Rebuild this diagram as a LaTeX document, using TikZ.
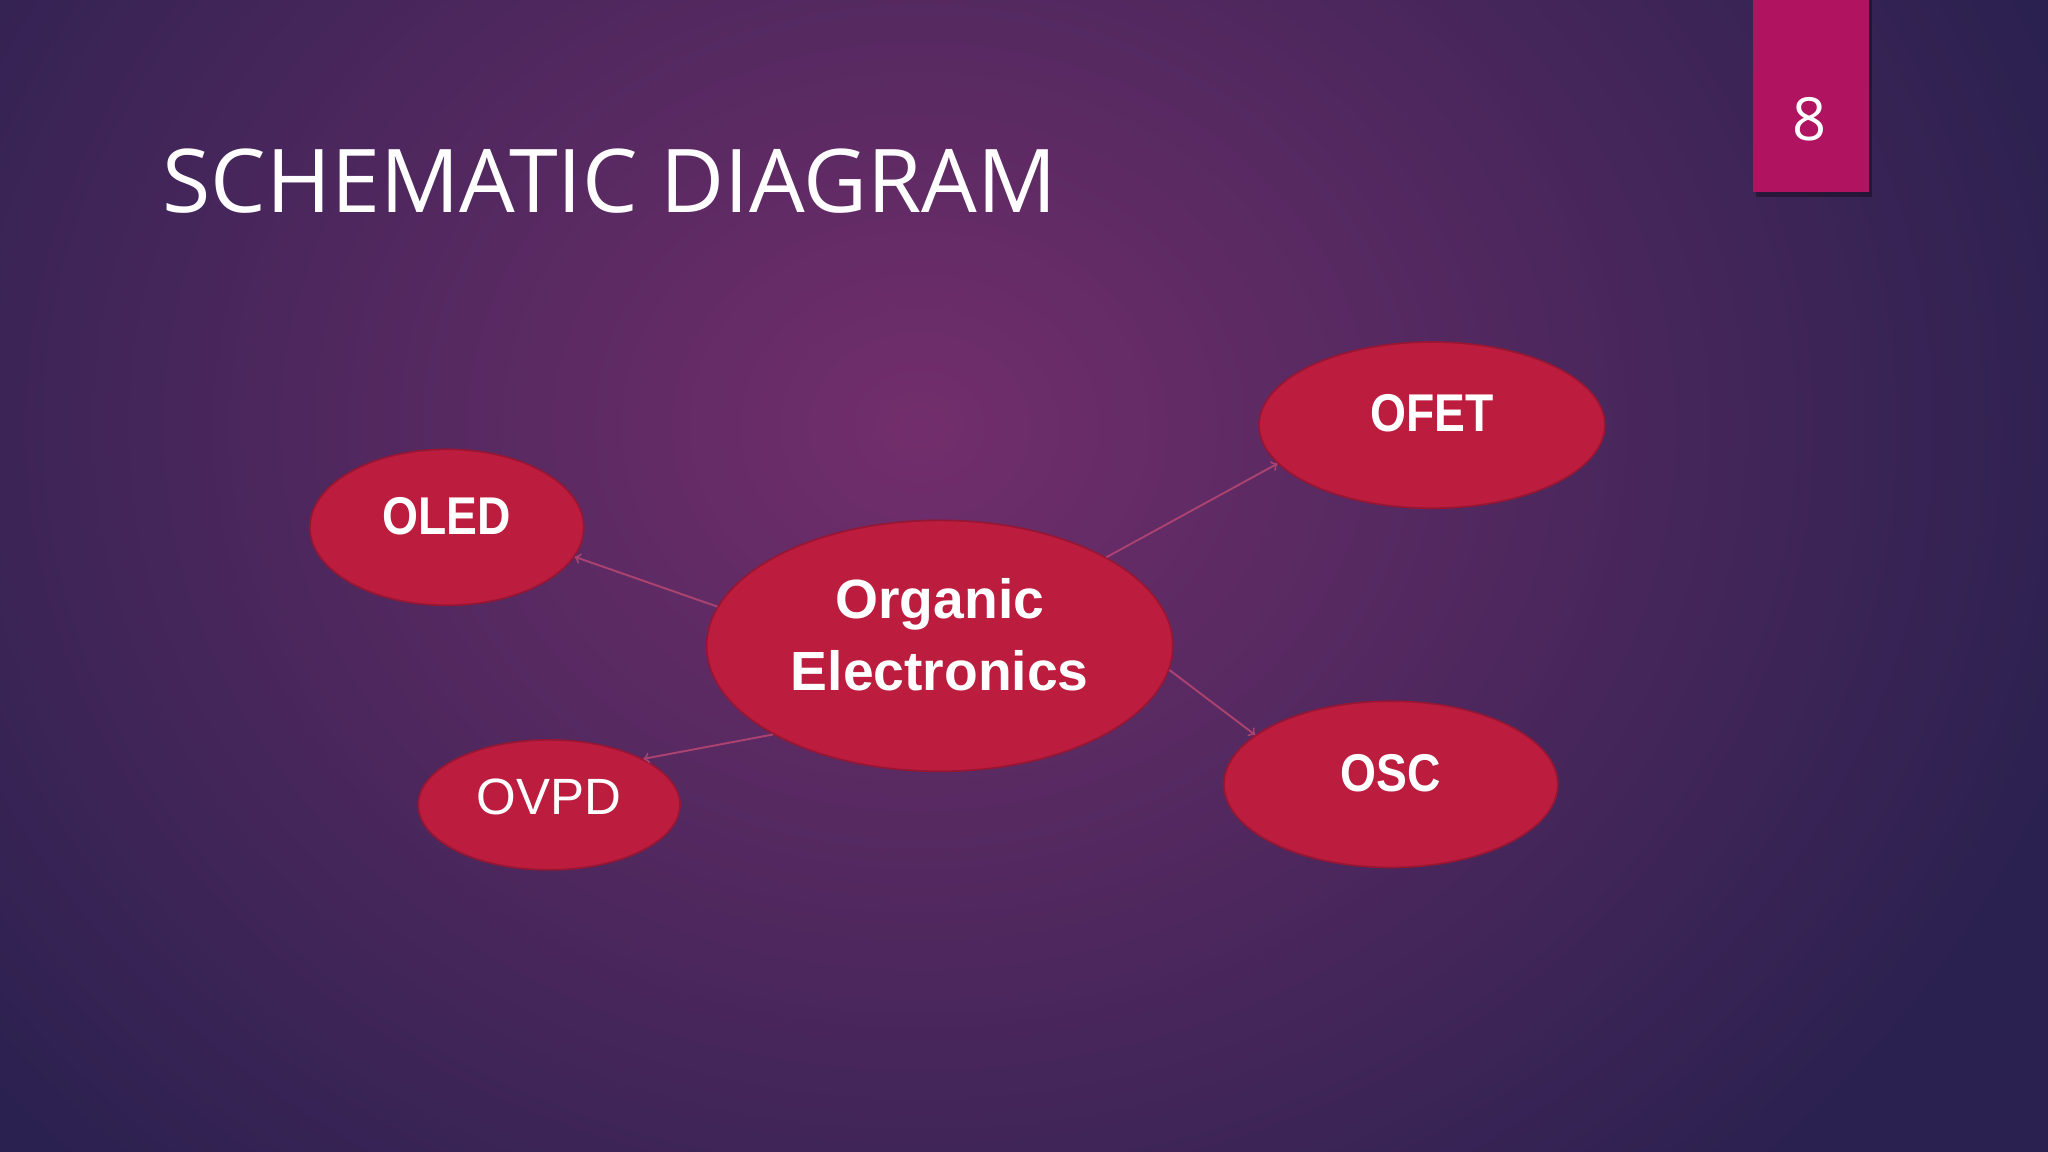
\documentclass[tikz,border=0pt]{standalone}
\usepackage{fontspec}
\setmainfont{Liberation Sans}
\newfontfamily\titlefont{Open Sans}
\newfontfamily\labelfont[FakeStretch=0.87]{Liberation Sans}
\definecolor{bgdark}{RGB}{43,33,80}
\definecolor{bglight}{RGB}{114,46,108}
\definecolor{nodered}{RGB}{188,28,62}
\definecolor{edgered}{RGB}{150,22,52}
\definecolor{linkpink}{RGB}{172,66,112}
\definecolor{tabpink}{RGB}{176,20,96}
\usetikzlibrary{shapes,arrows,positioning,calc}

\begin{document}
\begin{tikzpicture}[
    blob/.style={ellipse, draw=edgered, fill=nodered, line width=0.8pt,
                 text=white, align=center, text depth=11pt,
                 font=\labelfont\bfseries\fontsize{25}{30}\selectfont},
    link/.style={->, line width=0.9pt, linkpink}]

% Slide background
\useasboundingbox (0,0) rectangle (33.867,19.05);
\fill[bgdark] (0,0) rectangle (33.867,19.05);
\begin{scope}
\clip (0,0) rectangle (33.867,19.05);
\shade[inner color=bglight, outer color=bgdark] (15.2,12) ellipse (20 and 17);
\end{scope}

% Page tab
\fill[black, opacity=0.35] (29.04,15.80) rectangle (30.96,19.05);
\fill[tabpink] (28.99,15.875) rectangle (30.91,19.05);
\node[text=white, font=\titlefont\fontsize{28}{34}\selectfont] (pageno) at (29.92,17.08) {8};

% Title
\node[anchor=base west, inner sep=0, text=white,
      font=\titlefont\fontsize{41.4}{50}\selectfont] (title) at (2.68,15.53) {SCHEMATIC DIAGRAM};

% Centre
\node[blob, minimum width=7.71cm, minimum height=4.15cm,
      font=\bfseries\fontsize{26}{34}\selectfont] (core) at (15.54,8.37) {Organic\\Electronics};

% Applications
\node[blob, minimum width=4.53cm, minimum height=2.58cm] (oled) at (7.39,10.33) {OLED};
\node[blob, minimum width=4.33cm, minimum height=2.15cm, text depth=7.5pt,
      font=\fontsize{24}{29}\selectfont] (ovpd) at (9.08,5.74) {OVPD};
\node[blob, minimum width=5.72cm, minimum height=2.75cm] (ofet) at (23.68,12.02) {OFET};
\node[blob, minimum width=5.52cm, minimum height=2.75cm] (osc) at (23.00,6.08) {OSC};

% Arrows
\draw[link] (core.170) -- (oled.-13);
\draw[link] (core.208) -- (ovpd.26);
\draw[link] (core.28) -- (ofet.194);
\draw[link] (core.-6) -- (osc.160);
\end{tikzpicture}
\end{document}
